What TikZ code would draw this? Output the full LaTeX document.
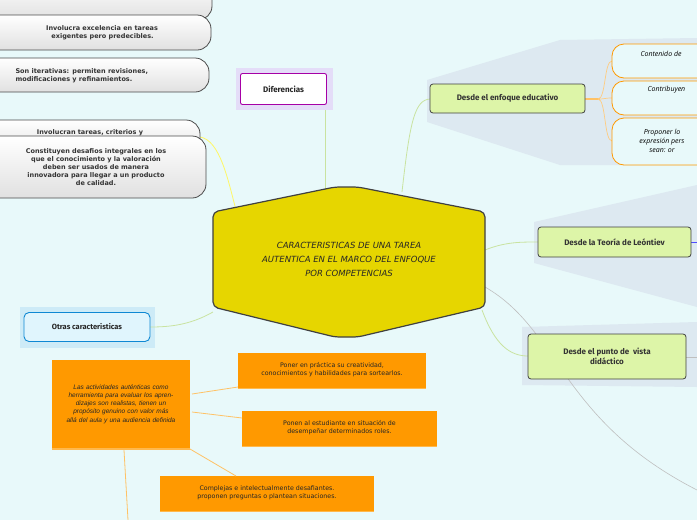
\documentclass[tikz,border=0pt]{standalone}
\usepackage{fontspec}
\setmainfont{DejaVu Sans}
\newfontfamily\fira{Fira Sans}
\newfontfamily\opens{Open Sans}
\newfontfamily\libs{Liberation Sans}
\definecolor{bgc}{HTML}{E8F9FA}
\definecolor{zone}{HTML}{DDE9F1}
\definecolor{grn}{HTML}{DDF5A8}
\definecolor{org}{HTML}{FF9900}
\definecolor{cyel}{HTML}{E6D600}
\definecolor{gline}{HTML}{C9E3A0}
\definecolor{lav}{HTML}{E4DDF8}
\definecolor{lblue}{HTML}{CDEBF7}
\tikzset{
 pill/.style={draw=black!70,rounded corners=14pt,top color=white,bottom color=black!12,line width=0.8pt},
 ptext/.style={font=\bfseries\fontsize{6.5}{8}\selectfont,text=black!80,align=center},
 gbox/.style={draw=black!75,fill=grn,rounded corners=3pt,line width=0.8pt,font=\fira\bfseries\fontsize{8}{10}\selectfont,text=black!80,align=center},
 obox/.style={fill=org,font=\fontsize{6.3}{8}\selectfont,text=black!85,align=center},
 rbox/.style={draw=org,fill=bgc,rounded corners=12pt,line width=0.8pt},
 rtext/.style={font=\opens\itshape\fontsize{7}{9}\selectfont,align=center},
 conn/.style={gline,line width=0.8pt},
 oconn/.style={org!60,line width=0.8pt}
}
\begin{document}
\begin{tikzpicture}[x=1pt,y=-1pt]
\fill[bgc] (0,0) rectangle (697,520);
\useasboundingbox (0,0) rectangle (697,520);
% zones
\fill[zone] (427,80) -- (560,40) -- (697,38) -- (697,165) -- (560,165) -- (427,122) -- cycle;
\fill[zone] (534,222) -- (697,185) -- (697,307) -- (534,263) -- cycle;
\fill[zone] (522,327) -- (697,322) -- (697,387) -- (522,385) -- cycle;
\fill[lav] (236,68) rectangle (333,110);
\fill[lblue] (20,307) rectangle (155,348);
% connectors
\draw[conn] (325,110) -- (325,190);
\draw[conn] (402,192) .. controls (410,120) and (415,100) .. (430,99);
\draw[conn] (485,250) .. controls (505,242) and (520,242) .. (538,242);
\draw[conn] (482,310) .. controls (495,345) and (510,356) .. (528,356);
\draw[black!25,line width=0.6pt] (485,287) .. controls (560,330) and (560,420) .. (697,490);
\draw[yellow!60,line width=0.8pt] (200,137) .. controls (220,140) and (228,180) .. (236,210);
\draw[conn] (213,312) .. controls (190,325) and (170,327) .. (150,327);
\draw[blue!70,line width=0.8pt] (691,242) -- (697,242);
\draw[black!25,line width=0.6pt] (686,357) -- (697,357);
\draw[org!60,line width=1.5pt] (585,99) -- (600,99);
\foreach \y in {61,98,141} \draw[org!50,line width=0.7pt] (598,99) .. controls (606,99) and (604,\y) .. (612,\y);
% center
\draw[draw=black!75,line width=1.2pt,fill=cyel,rounded corners=5pt] (213,212) -- (335,187) -- (358,187) -- (485,212) -- (485,307) -- (358,337) -- (335,337) -- (213,307) -- cycle;
\node[font=\itshape\fontsize{8.5}{14}\selectfont,align=center,text=black!85] (ctx) at (349,259) {CARACTERISTICAS DE UNA TAREA\\AUTENTICA EN EL MARCO DEL ENFOQUE\\POR COMPETENCIAS};
% left pills
\draw[pill] (-20,-20) rectangle (212,20);
\draw[pill] (-20,15) rectangle (211,50); \node[ptext] (p2) at (102,33) {Involucra excelencia en tareas\\ \,exigentes pero predecibles.};
\draw[pill] (-20,58) rectangle (209,92); \node[ptext,align=left,anchor=west] (p3) at (12,76) {Son iterativas: permiten revisiones,\\modificaciones y refinamientos.};
\draw[pill] (-20,120) rectangle (200,155); \node[ptext] (p4) at (90,133) {Involucran tareas, criterios y};
\draw[pill] (-20,136) rectangle (206,198); \node[ptext] (p5) at (96,167) {Constituyen desafios integrales en los\\que el conocimiento y la valoración\\deben ser usados de manera\\innovadora para llegar a un producto\\de calidad.};
% diferencias / otras
\node[draw=violet!70!magenta,line width=0.9pt,fill=white,rounded corners=2pt,minimum width=86pt,minimum height=31pt,font=\fira\bfseries\fontsize{8}{10}\selectfont,text=black!85] (dif) at (283.5,89) {Diferencias};
\node[draw=cyan!70!blue,line width=0.9pt,fill=cyan!12,rounded corners=5pt,minimum width=126pt,minimum height=29pt,font=\fira\bfseries\fontsize{7.5}{9}\selectfont,text=black!85] (otr) at (87,327) {Otras caracteristicas};
% green nodes
\node[gbox,minimum width=155pt,minimum height=29pt] (edu) at (507.5,98.5) {Desde el enfoque educativo};
\node[gbox,minimum width=153pt,minimum height=30pt] (leo) at (614.5,242) {Desde la Teoría de Leóntiev};
\node[gbox,minimum width=158pt,minimum height=45pt] (did) at (607,356.5) {Desde el punto de \ vista\\didáctico};
% right orange
\draw[rbox] (612,44) rectangle (720,78); \node[rtext,anchor=west] (r1) at (637,54) {Contenido de};
\draw[rbox] (612,81) rectangle (720,115); \node[rtext,anchor=west] (r2) at (644,90) {Contribuyen};
\draw[rbox] (612,118) rectangle (720,165); \node[rtext] (r3) at (662,141) {Proponer lo\\expresión pers\\sean: or};
% orange bottom
\node[obox,font=\libs\itshape\fontsize{6.5}{8.2}\selectfont,minimum width=138pt,minimum height=88pt,text width=120pt] (big) at (121,404) {Las actividades auténticas como herramienta para evaluar los aprendizajes son realistas, tienen un propósito genuino con valor más allá del aula y una audiencia definida};
\node[obox,minimum width=188pt,minimum height=35pt] (o1) at (332,370) {Poner en práctica su creatividad,\\conocimientos y habilidades para sortearlos.};
\node[obox,minimum width=195pt,minimum height=35pt] (o2) at (339.5,428) {Ponen al estudiante en situación de\\desempeñar determinados roles.};
\node[obox,minimum width=214pt,minimum height=35pt] (o3) at (267,493) {Complejas e intelectualmente desafiantes.\\proponen preguntas o plantean situaciones.};
\foreach \n in {big,o1,o2,o3} \draw[org!70,line width=1.5pt] ([yshift=-1pt]\n.south west) -- ([yshift=-1pt]\n.south east);
\draw[oconn] (192,394) -- (238,387);
\draw[oconn] (192,412) -- (242,418);
\draw[oconn] (190,449) -- (236,476);
\draw[oconn] (124,450) -- (128,520);
\end{tikzpicture}
\end{document}
